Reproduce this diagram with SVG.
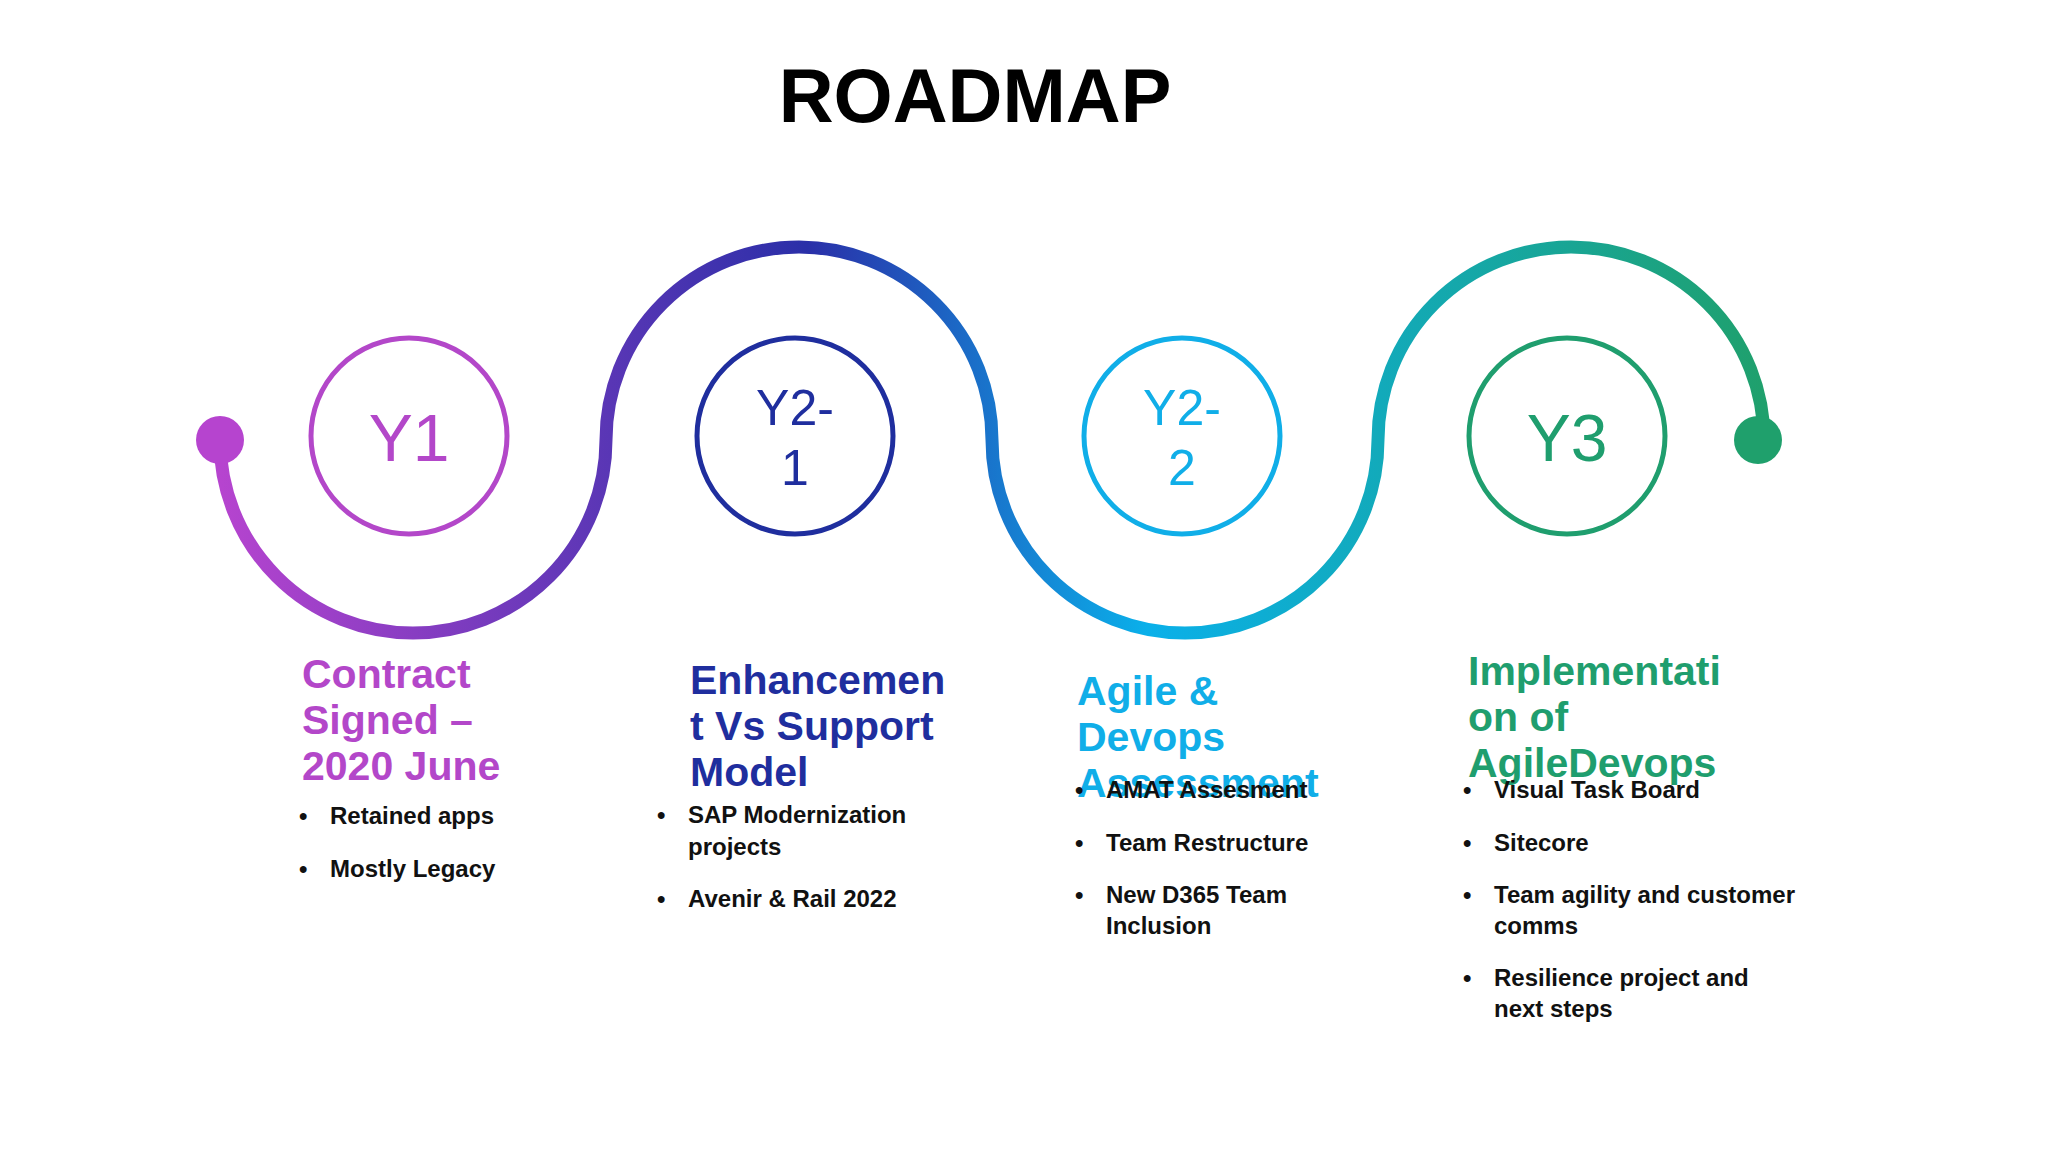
<svg xmlns="http://www.w3.org/2000/svg" width="2048" height="1152" viewBox="0 0 2048 1152">
<defs>
<linearGradient id="wg" gradientUnits="userSpaceOnUse" x1="220" y1="0" x2="1765" y2="0">
<stop offset="0" stop-color="#b644cf"/>
<stop offset="0.38" stop-color="#2a2fa8"/>
<stop offset="0.6" stop-color="#0ab0ea"/>
<stop offset="1" stop-color="#1fa06c"/>
</linearGradient>
<style>
text{font-family:"Liberation Sans",Arial,sans-serif}
.t{font-size:76px;font-weight:bold;fill:#000}
.c{fill:none;stroke-width:5}
.cl{font-size:66px;text-anchor:middle}
.cl2{font-size:50px;text-anchor:middle}
.h{font-size:41px;font-weight:bold}
.b{font-size:24px;font-weight:bold;fill:#111}
</style>
</defs>
<rect width="2048" height="1152" fill="#fff"/>
<text class="t" x="975" y="122" text-anchor="middle">ROADMAP</text>
<g id="connectors">
<path d="M220,440 A193,193 0 0 0 606,440 A193,193 0 0 1 992,440 A193,193 0 0 0 1378,440 A193,193 0 0 1 1764,440" fill="none" stroke="url(#wg)" stroke-width="13"/>
<circle cx="220" cy="440" r="24" fill="#b644cf"/>
<circle cx="1758" cy="440" r="24" fill="#1fa06c"/>
</g>
<g id="y1" fill="#b347c9">
<circle class="c" cx="409" cy="436" r="98" stroke="#b347c9"/>
<text class="cl" x="409" y="461">Y1</text>
<text class="h" x="302" y="688">Contract</text>
<text class="h" x="302" y="734">Signed –</text>
<text class="h" x="302" y="780">2020 June</text>
<text class="b" x="299" y="824">•</text><text class="b" x="330" y="824">Retained apps</text>
<text class="b" x="299" y="877">•</text><text class="b" x="330" y="877">Mostly Legacy</text>
</g>
<g id="y21" fill="#1f2e9e">
<circle class="c" cx="795" cy="436" r="98" stroke="#1f2e9e"/>
<text class="cl2" x="795" y="425">Y2-</text>
<text class="cl2" x="795" y="485">1</text>
<text class="h" x="690" y="694">Enhancemen</text>
<text class="h" x="690" y="740">t Vs Support</text>
<text class="h" x="690" y="786">Model</text>
<text class="b" x="657" y="823">•</text><text class="b" x="688" y="823">SAP Modernization</text>
<text class="b" x="688" y="855">projects</text>
<text class="b" x="657" y="907">•</text><text class="b" x="688" y="907">Avenir &amp; Rail 2022</text>
</g>
<g id="y22" fill="#10aee8">
<circle class="c" cx="1182" cy="436" r="98" stroke="#10aee8"/>
<text class="cl2" x="1182" y="425">Y2-</text>
<text class="cl2" x="1182" y="485">2</text>
<text class="h" x="1077" y="705">Agile &amp;</text>
<text class="h" x="1077" y="751">Devops</text>
<text class="h" x="1077" y="797">Assessment</text>
<text class="b" x="1075" y="798">•</text><text class="b" x="1106" y="798">AMAT Assesment</text>
<text class="b" x="1075" y="851">•</text><text class="b" x="1106" y="851">Team Restructure</text>
<text class="b" x="1075" y="903">•</text><text class="b" x="1106" y="903">New D365 Team</text>
<text class="b" x="1106" y="934">Inclusion</text>
</g>
<g id="y3" fill="#1f9e6e">
<circle class="c" cx="1567" cy="436" r="98" stroke="#1f9e6e"/>
<text class="cl" x="1567" y="461">Y3</text>
<text class="h" x="1468" y="685">Implementati</text>
<text class="h" x="1468" y="731">on of</text>
<text class="h" x="1468" y="777">AgileDevops</text>
<text class="b" x="1463" y="798">•</text><text class="b" x="1494" y="798">Visual Task Board</text>
<text class="b" x="1463" y="851">•</text><text class="b" x="1494" y="851">Sitecore</text>
<text class="b" x="1463" y="903">•</text><text class="b" x="1494" y="903">Team agility and customer</text>
<text class="b" x="1494" y="934">comms</text>
<text class="b" x="1463" y="986">•</text><text class="b" x="1494" y="986">Resilience project and</text>
<text class="b" x="1494" y="1017">next steps</text>
</g>
</svg>
